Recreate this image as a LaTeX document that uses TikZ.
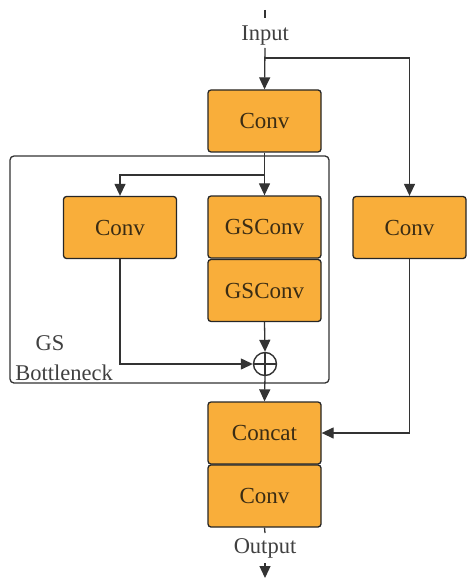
\documentclass[tikz,border=0pt]{standalone}
\usepackage{fontspec}
\setmainfont{Liberation Serif}
\usetikzlibrary{arrows.meta,positioning}
\definecolor{boxfill}{HTML}{F9AE3A}
\definecolor{boxtext}{HTML}{3A2C14}
\definecolor{lin}{HTML}{333333}
\tikzset{
  blk/.style={draw=black!85, line width=1.3pt, fill=boxfill, rounded corners=3pt,
    minimum width=113pt, minimum height=62pt, inner sep=0pt, text=boxtext,
    font=\fontsize{23}{26}\selectfont},
  conn/.style={draw=lin, line width=1.3pt, -{Triangle[length=12pt,width=11pt]}},
  plain/.style={draw=lin, line width=1.3pt},
  lbl/.style={text=black!75, font=\fontsize{22.5}{26}\selectfont, inner sep=0pt}
}
\begin{document}
\begin{tikzpicture}[x=1pt,y=-1pt]
\useasboundingbox (0,0) rectangle (474,585);
% GS bottleneck frame
\draw[draw=lin, line width=1.3pt, rounded corners=4pt] (10,156) rectangle (329,383);
\node[lbl, anchor=center] (gs) at (50,343) {GS};
\node[lbl, anchor=center] (bn) at (64,373) {Bottleneck};
% nodes
\node[lbl] (in) at (265,36) {Input};
\node[blk] (c1) at (264.5,121) {Conv};
\node[blk] (cl) at (120,227.5) {Conv};
\node[blk] (g1) at (264.5,227) {GSConv};
\node[blk] (g2) at (264.5,290.5) {GSConv};
\node[blk] (cr) at (409.5,227.5) {Conv};
\node[blk] (cc) at (264.5,433) {Concat};
\node[blk] (co) at (264.5,496) {Conv};
\node[lbl] (out) at (265,548) {Output};
\node[draw=lin, line width=1.4pt, circle, minimum size=23pt, inner sep=0pt] (add) at (265,364) {};
\draw[lin, line width=1.3pt] (add.north) -- (add.south) (add.west) -- (add.east);
% connectors
\coordinate (t0) at (265,10);
\coordinate (t1) at (265,18);
\draw[plain] (t0) -- (t1);
\coordinate (i0) at (265,48);
\coordinate (b1) at (265,58);
\draw[conn] (i0) -- (c1.north);
\draw[conn] (b1) -- (409.5,58) -- (cr.north);
\coordinate (b2) at (265,175);
\draw[conn] (c1.south) -- (g1.north);
\draw[conn] (b2) -- (120,175) -- (cl.north);
\draw[conn] (g2.south) -- (add.north);
\draw[conn] (cl.south) |- (add.west);
\draw[conn] (add.south) -- (cc.north);
\draw[conn] (cr.south) |- (cc.east);
\coordinate (o1) at (265,533);
\draw[plain] (co.south) -- (o1);
\coordinate (o2) at (265,563);
\coordinate (o3) at (265,578);
\draw[conn] (o2) -- (o3);
\end{tikzpicture}
\end{document}
